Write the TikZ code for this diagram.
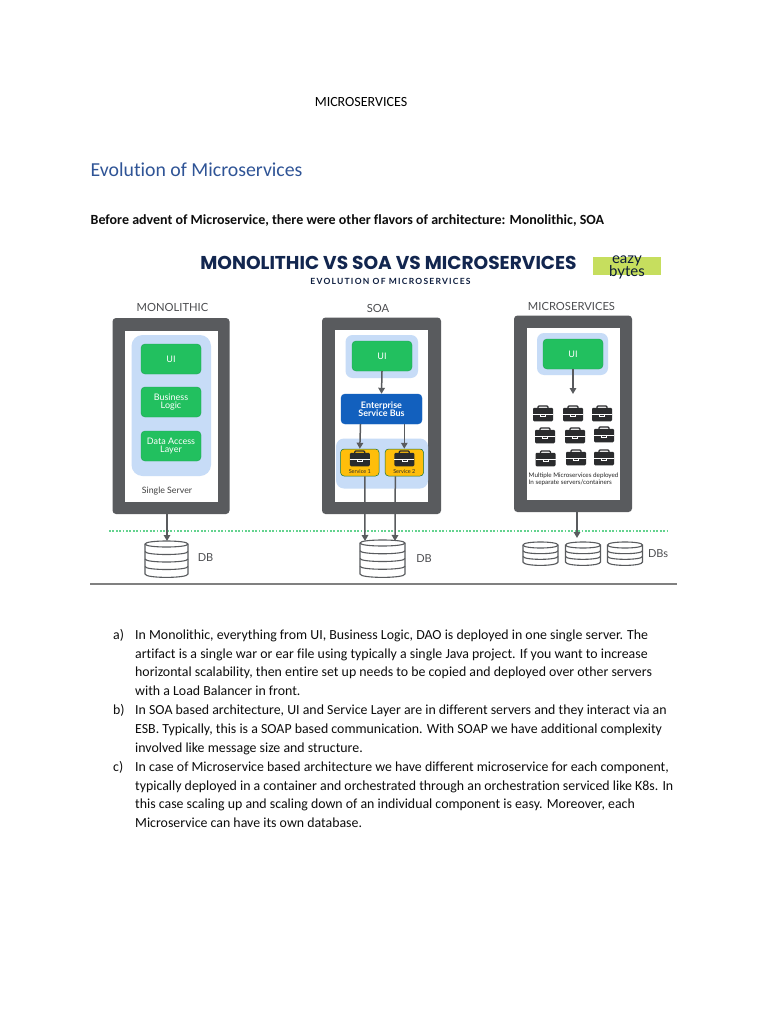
\documentclass[tikz,border=0pt]{standalone}
\usepackage{fontspec}
\setmainfont[Ligatures={NoCommon}]{Carlito}
\newfontfamily\headfont{Poppins}
\newfontfamily\diafont{Lato}
\newfontfamily\spacedfont[LetterSpace=14.5]{Lato}
\usetikzlibrary{arrows.meta,calc}
\definecolor{srv}{HTML}{595B5E}
\definecolor{paleblue}{HTML}{C7DCF7}
\definecolor{grn}{HTML}{22C05F}
\definecolor{esbblue}{HTML}{1260BE}
\definecolor{amber}{HTML}{FFBE0B}
\definecolor{navy}{HTML}{12264F}
\definecolor{lime}{HTML}{C6DE5E}
\definecolor{headblue}{HTML}{2F5496}
\definecolor{brief}{HTML}{2A2B2D}
\tikzset{
 comp/.style={fill=grn,draw=grn!85!black,line width=.4pt,rounded corners=4pt,text=white,font=\diafont\fontsize{9}{9}\selectfont,align=center,inner sep=0pt,minimum width=60pt,minimum height=30pt},
 svc/.style={fill=amber,draw=grn!60!black,line width=.5pt,rounded corners=3.5pt,inner sep=0pt,minimum width=38.5pt,minimum height=27pt},
 flow/.style={draw=srv,line width=1.5pt,-{Triangle[length=6pt,width=6.5pt]}},
 line/.style={anchor=base west,inner sep=0pt,font=\fontsize{13.87}{14}\selectfont,text=black!95},
 tier/.style={inner sep=0pt,text=srv!85!black,font=\diafont\fontsize{11.2}{11.2}\selectfont},
 dblab/.style={inner sep=0pt,text=srv!85!black,font=\diafont\fontsize{11}{11}\selectfont},
 disk/.style={draw=srv,line width=1.1pt,fill=white},
 frame/.style={fill=srv,rounded corners=3.5pt},
}
% name, cx, top y, half width, disk body height, number of bands
\newcommand{\dbstack}[6]{%
 \begin{scope}[shift={(#2,#3)}]
  \draw[disk] (-#4,3) -- (-#4,#5) .. controls (-#4,#5+4.5) and (#4,#5+4.5) .. (#4,#5) -- (#4,3)
     .. controls (#4,-1) and (-#4,-1) .. (-#4,3) -- cycle;
  \draw[draw=srv,line width=1.1pt] (-#4,3) .. controls (-#4,7) and (#4,7) .. (#4,3);
  \foreach \k in {1,...,#6}{
   \pgfmathsetmacro{\yy}{3+\k*(#5-3)/(#6+1)}
   \draw[draw=srv,line width=1.1pt] (-#4,\yy) .. controls (-#4,\yy+4) and (#4,\yy+4) .. (#4,\yy);
  }
  \coordinate (#1) at (0,0);
 \end{scope}}
% name, cx, cy
\newcommand{\bcase}[3]{%
 \begin{scope}[shift={(#2,#3)}]
  \draw[brief,line width=1.2pt,rounded corners=1pt] (-5,-5) -- (-5,-8) -- (5,-8) -- (5,-5);
  \node[fill=brief,rounded corners=1.2pt,inner sep=0pt,minimum width=20pt,minimum height=13.5pt] (#1) at (0,0.5) {};
  \draw[white,line width=.5pt] (-10,0.5) -- (-2.5,0.5) (2.5,0.5) -- (10,0.5);
  \draw[white,line width=.5pt] (-2.5,0) rectangle (2.5,2.6);
 \end{scope}}
\begin{document}
\begin{tikzpicture}[x=1pt,y=-1pt]
\useasboundingbox (0,0) rectangle (768,1024);
\fill[white] (0,0) rectangle (768,1024);

% page heading
\node[inner sep=0pt,font=\fontsize{14}{14}\selectfont] (doc) at (361,102) {MICROSERVICES};
\node[line,text=headblue,font=\fontsize{19.8}{20}\selectfont] (evo) at (90.5,176.3) {Evolution of Microservices};
\node[line,font=\bfseries\fontsize{14}{14}\selectfont] (intro) at (90.5,225) {Before advent of Microservice, there were other flavors of architecture: Monolithic, SOA};

% banner
\node[inner sep=0pt,text=navy,font=\headfont\bfseries\fontsize{18.6}{18.6}\selectfont] (title) at (388.5,263) {MONOLITHIC VS SOA VS MICROSERVICES};
\node[inner sep=0pt,text=navy!80!black,font=\spacedfont\bfseries\fontsize{8.5}{8.5}\selectfont] (subtitle) at (390.5,281) {EVOLUTION OF MICROSERVICES};
\fill[lime] (593,256.5) rectangle (661,275);
\node[inner sep=0pt,text=navy!70!black,font=\diafont\fontsize{15}{11}\selectfont,align=center] (logo) at (627,267.5) {eazy\\[-2pt]bytes};

% tier names
\node[tier] (t1) at (172.5,307) {MONOLITHIC};
\node[tier] (t2) at (378,308) {SOA};
\node[tier] (t3) at (571.5,306) {MICROSERVICES};

% monolithic
\fill[frame] (112.5,318) rectangle (229.5,514);
\fill[white] (125,331) rectangle (218,502);
\fill[paleblue,rounded corners=11pt] (131.5,335) rectangle (211,476);
\node[comp] (m1) at (171,359) {UI};
\node[comp] (m2) at (171,402) {Business\\[-1pt]Logic};
\node[comp] (m3) at (171,446) {Data Access\\[-1pt]Layer};
\node[inner sep=0pt,text=black!75,font=\diafont\fontsize{8.8}{8.8}\selectfont] (m4) at (167,491) {Single Server};

% soa
\fill[frame] (322,317.5) rectangle (441,514);
\fill[white] (335,330) rectangle (428,502);
\fill[paleblue,rounded corners=7pt] (345.5,335) rectangle (418,378);
\fill[paleblue,rounded corners=8pt] (336,438.5) rectangle (428,488.5);
\node[comp] (s1) at (382,356) {UI};
\node[comp,fill=esbblue,draw=esbblue,minimum width=81pt,font=\diafont\bfseries\fontsize{9}{9}\selectfont] (esb) at (381.5,409) {Enterprise\\[-1pt]Service Bus};
\node[svc] (sv1) at (359.8,462.5) {};
\node[svc] (sv2) at (404.3,462.5) {};
\bcase{bs1}{359.8}{459}
\bcase{bs2}{404.3}{459}
\node[inner sep=0pt,text=brief,font=\diafont\fontsize{5.5}{5.5}\selectfont] (sl1) at (359.8,472) {Service 1};
\node[inner sep=0pt,text=brief,font=\diafont\fontsize{5.5}{5.5}\selectfont] (sl2) at (404.3,472) {Service 2};

% micro
\fill[frame] (514,315.5) rectangle (632,512);
\fill[white] (527,327.5) rectangle (620,500);
\fill[paleblue,rounded corners=7pt] (537,333) rectangle (608,375);
\node[comp] (u1) at (573,354) {UI};
\bcase{b1}{543}{414}\bcase{b2}{573}{414}\bcase{b3}{602}{414}
\bcase{b4}{545}{436}\bcase{b5}{575}{436}\bcase{b6}{604}{435}
\bcase{b7}{545.5}{459}\bcase{b8}{576}{458}\bcase{b9}{604}{458}
\coordinate (ubelow) at (573,394);
\node[inner sep=0pt,align=left,anchor=north west,text=black!85,font=\diafont\fontsize{6.3}{7}\selectfont] (mtxt) at (528.5,473) {Multiple Microservices deployed\\In separate servers/containers};

% dotted divider and rule
\coordinate (dl) at (109,531);
\coordinate (dr) at (668,531);
\draw[grn!70!white,line width=2pt,dash pattern=on 1.8pt off 1.6pt] (dl) -- (dr);
\coordinate (rl) at (90,584);
\coordinate (rr) at (677,584);
\draw[black!50,line width=1.4pt] (rl) -- (rr);

% databases
\dbstack{d1}{166.5}{541}{21.5}{33}{3}
\dbstack{d2}{382.5}{540}{22.5}{34}{3}
\dbstack{d3}{540.5}{542}{17.5}{20}{2}
\dbstack{d4}{583}{542}{17.5}{20}{2}
\dbstack{d5}{625}{542}{17.5}{20}{2}
\node[dblab] (l1) at (205.5,558) {DB};
\node[dblab] (l2) at (424,559) {DB};
\node[dblab] (l3) at (658,554) {DBs};

% connectors
\draw[flow] (167,514) -- (167,541);
\draw[flow] (s1.south) -- (esb.north);
\draw[flow] ($(esb.south)+(-21,0)$) -- (sv1.north);
\draw[flow] ($(esb.south)+(22.8,0)$) -- (sv2.north);
\draw[flow] ($(sv1.south)+(5,0)$) -- ($(d2)+(-17.5,1)$);
\draw[flow] ($(sv2.south)+(-9,0)$) -- ($(d2)+(12.5,1)$);
\draw[flow] (u1.south) -- (ubelow);
\draw[flow] (577,512) -- ($(d4)+(-6,-4)$);

% body text
\node[line] (a0) at (113,639) {a)};
\node[line] (a1) at (135,639) {In Monolithic, everything from UI, Business Logic, DAO is deployed in one single server. The};
\node[line] (a2) at (135,658) {artifact is a single war or ear file using typically a single Java project. If you want to increase};
\node[line] (a3) at (135,676.5) {horizontal scalability, then entire set up needs to be copied and deployed over other servers};
\node[line] (a4) at (135,695.5) {with a Load Balancer in front.};
\node[line] (b0) at (113,714) {b)};
\node[line] (b1) at (135,714) {In SOA based architecture, UI and Service Layer are in different servers and they interact via an};
\node[line] (b2) at (135,733) {ESB. Typically, this is a SOAP based communication. With SOAP we have additional complexity};
\node[line] (b3) at (135,752) {involved like message size and structure.};
\node[line] (c0) at (113,771) {c)};
\node[line] (c1) at (135,771) {In case of Microservice based architecture we have different microservice for each component,};
\node[line] (c2) at (135,790) {typically deployed in a container and orchestrated through an orchestration serviced like K8s. In};
\node[line] (c3) at (135,808.5) {this case scaling up and scaling down of an individual component is easy. Moreover, each};
\node[line] (c4) at (135,827) {Microservice can have its own database.};
\end{tikzpicture}
\end{document}
